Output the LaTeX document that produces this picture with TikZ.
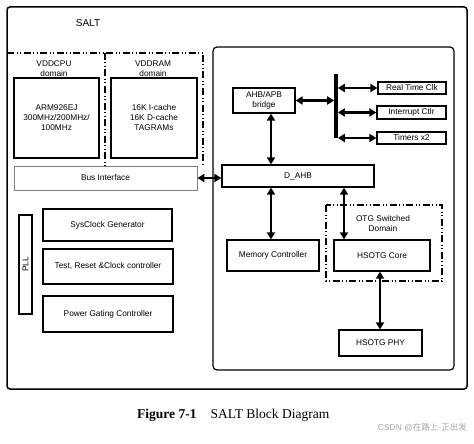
\documentclass[tikz,border=0pt]{standalone}
\usepackage{fontspec}
\setmainfont{Liberation Sans}
\newfontfamily\capfont{Liberation Serif}
\newfontfamily\cjk{Noto Sans CJK SC}
\usetikzlibrary{arrows.meta,calc}
\begin{document}
\begin{tikzpicture}[x=1pt,y=-1pt,
  box/.style={draw,line width=1.2pt,inner sep=0pt,align=center,font=\fontsize{8.3}{10}\selectfont},
  bus/.style={line width=2.8pt,{Triangle[length=7pt,width=8pt]}-{Triangle[length=7pt,width=8pt]}},
  dd/.style={line width=1.3pt,dash pattern=on 7pt off 2.5pt on 1pt off 2.5pt on 1pt off 2.5pt},
  lbl/.style={font=\fontsize{8.3}{10}\selectfont,inner sep=0pt,align=center}]
\useasboundingbox (0,0) rectangle (474,444);
% outer SALT box
\draw[line width=1.5pt,rounded corners=3pt] (7,7) rectangle (467,389);
\node[font=\fontsize{10}{12}\selectfont] (salt) at (88,23) {SALT};
% domain dash-dot lines
\draw[dd] (7,53) -- (203,53) -- (203,166);
\draw[dd] (105,53) -- (105,166);
\node[lbl] (vcpu) at (54,69) {VDDCPU\\domain};
\node[lbl] (vram) at (153,69) {VDDRAM\\domain};
\node[box,minimum width=85pt,minimum height=80pt] (arm) at (56.5,118) {ARM926EJ\\300MHz/200MHz/\\100MHz};
\node[box,minimum width=86pt,minimum height=80pt] (cache) at (154,118) {16K I-cache\\16K D-cache\\TAGRAMs};
\node[box,draw=gray,fill=white,line width=0.8pt,minimum width=183pt,minimum height=24pt] (busif) at (105.5,178) {Bus Interface};
% inner rounded box
\draw[line width=1.2pt,rounded corners=4pt] (213,47) rectangle (454,370);
\node[box,minimum width=62pt,minimum height=25pt] (bridge) at (264,100.5) {AHB/APB\\bridge};
\node[fill=black,inner sep=0pt,minimum width=3.2pt,minimum height=64pt] (apb) at (336,106) {};
\node[box,minimum width=68pt,minimum height=12pt] (rtc) at (412,88) {Real Time Clk};
\node[box,minimum width=69pt,minimum height=13pt] (irq) at (411.5,112.5) {Interrupt Ctlr};
\node[box,minimum width=69pt,minimum height=12pt] (tmr) at (411.5,138) {Timers x2};
\node[box,minimum width=152pt,minimum height=22pt] (dahb) at (298,176) {D\_AHB};
\node[box,minimum width=92pt,minimum height=31pt] (mem) at (273,255.5) {Memory Controller};
\draw[dd] (326,205) rectangle (442,281);
\node[lbl] (otg) at (383,224) {OTG Switched\\Domain};
\node[box,minimum width=96pt,minimum height=31pt] (core) at (382,255.5) {HSOTG Core};
\node[box,minimum width=83pt,minimum height=26pt] (phy) at (380.5,343) {HSOTG PHY};
% left lower blocks
\node[box,minimum width=13pt,minimum height=99pt] (pll) at (25.5,264.5) {};
\node[lbl,rotate=90] (pllt) at (pll.center) {PLL};
\node[box,minimum width=129pt,minimum height=32pt] (sysclk) at (107.5,225) {SysClock Generator};
\node[box,minimum width=130pt,minimum height=35pt] (trc) at (108,266.5) {Test, Reset \&Clock controller};
\node[box,minimum width=130pt,minimum height=36pt] (pgc) at (108,314) {Power Gating Controller};
% connectors
\coordinate (c1) at (271,0);
\coordinate (c2) at (344,0);
\coordinate (c3) at (380,0);
\draw[bus] (busif.east) -- (dahb.west |- busif.east);
\draw[bus] (bridge.east) -- (apb.west |- bridge.east);
\draw[bus] (apb.east |- rtc.west) -- (rtc.west);
\draw[bus] (apb.east |- irq.west) -- (irq.west);
\draw[bus] (apb.east |- tmr.west) -- (tmr.west);
\draw[bus] (bridge.south -| c1) -- (dahb.north -| c1);
\draw[bus] (dahb.south -| c1) -- (mem.north -| c1);
\draw[bus] (dahb.south -| c2) -- (core.north -| c2);
\draw[bus] (core.south -| c3) -- (phy.north -| c3);
% caption
\node[font=\capfont\fontsize{13.5}{16}\selectfont,anchor=west,inner sep=0pt] (cap) at (137,415) {\textbf{Figure 7-1}\hspace{14pt}SALT Block Diagram};
\node[font=\fontsize{8.5}{10}\selectfont,text=gray!70,anchor=east,inner sep=0pt] (wm) at (467,427) {CSDN @{\cjk 在路上}-{\cjk 正出发}};
\end{tikzpicture}
\end{document}
